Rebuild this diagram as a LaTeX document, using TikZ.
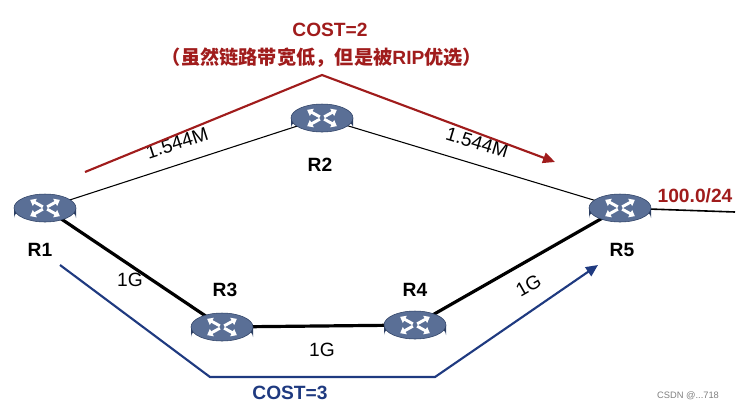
\documentclass[tikz,border=0pt]{standalone}
\usepackage{fontspec}
\setmainfont{Liberation Sans}
\newfontfamily\cjk{Noto Sans CJK SC}
\usetikzlibrary{arrows.meta}
\definecolor{rtop}{HTML}{5A6F96}
\definecolor{rbody}{HTML}{2B3E62}
\definecolor{dred}{HTML}{A01C1C}
\definecolor{dblue}{HTML}{1F3A80}
\begin{document}
\begin{tikzpicture}[x=0.75pt,y=-0.75pt,
  lbl/.style={font=\bfseries\Large},
  lk/.style={font=\Large},
  router/.pic={
    \fill[rbody] (-31,0) -- (-31,10) arc[start angle=180,end angle=360,x radius=31,y radius=13] -- (31,0) -- cycle;
    \fill[rtop, draw=rbody, line width=0.4pt] (0,0) ellipse[x radius=31,y radius=14];
    \foreach \a in {45,135,225,315}{
      \draw[white,line width=2.2pt,-{Triangle[length=4pt,width=6pt]}] ({3*cos(\a)},{0.55*3*sin(\a)}) -- ({21*cos(\a)},{0.55*21*sin(\a)});}
  }]
\useasboundingbox (0,0) rectangle (745,408);
\coordinate (R1) at (45,208);
\coordinate (R2) at (322,118);
\coordinate (R3) at (222,327);
\coordinate (R4) at (415,325);
\coordinate (R5) at (620,208);
\draw[line width=0.8pt] (R1) -- node[lk,above=7pt,pos=0.5,sloped]{1.544M} (R2);
\draw[line width=0.8pt] (R2) -- node[lk,above=7pt,pos=0.5,sloped]{1.544M} (R5);
\draw[line width=2.4pt] (R1) -- (R3);
\draw[line width=2.4pt] (R3) -- (R4);
\draw[line width=2.4pt] (R4) -- node[lk,below=7pt,pos=0.5,sloped]{1G} (R5);
\node[lk] (g1) at (130,280) {1G};
\node[lk] (g2) at (322,350) {1G};
\draw[line width=1.2pt] (R5) -- (735,212) coordinate (net);
\foreach \n in {R1,R2,R3,R4,R5} \pic at (\n) {router};
\node[lbl] (l1) at (40,250) {R1};
\node[lbl] (l2) at (320,165) {R2};
\node[lbl] (l3) at (225,290) {R3};
\node[lbl] (l4) at (415,290) {R4};
\node[lbl] (l5) at (622,250) {R5};
\node[lbl,text=dred] (net1) at (695,196) {100.0/24};
\coordinate (a1) at (85,172); \coordinate (a2) at (322,75); \coordinate (a3) at (555,162);
\draw[dred,line width=1.6pt,-{Triangle[length=9pt,width=8pt]}] (a1) -- (a2) -- (a3);
\coordinate (b1) at (60,265); \coordinate (b2) at (210,377); \coordinate (b3) at (435,377); \coordinate (b4) at (598,265);
\draw[dblue,line width=1.6pt,-{Triangle[length=9pt,width=8pt]}] (b1) -- (b2) -- (b3) -- (b4);
\node[lbl,text=dred] (c2) at (330,30) {COST=2};
\node[lbl,text=dred] (c2b) at (322,58) {{\cjk （虽然链路带宽低，但是被}RIP{\cjk 优选）}};
\node[lbl,text=dblue] (c3) at (290,393) {COST=3};
\node[font=\scriptsize,text=gray] (w) at (688,396) {CSDN @...718};
\end{tikzpicture}
\end{document}
